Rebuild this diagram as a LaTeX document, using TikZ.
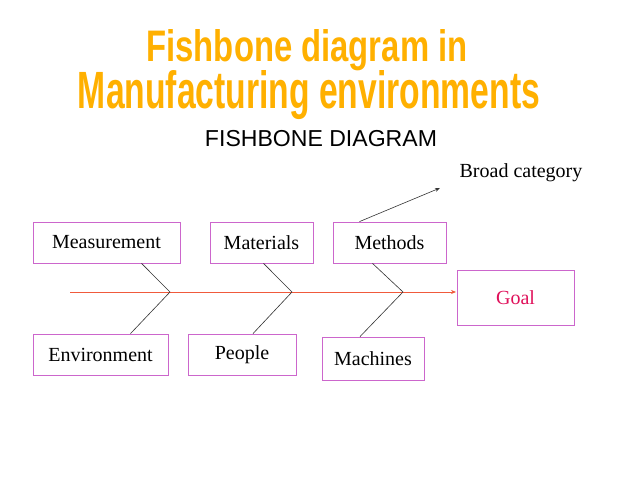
\documentclass[tikz,border=0pt]{standalone}
\usepackage{fontspec}
\setmainfont{Liberation Serif}
\newfontfamily\arialf{Liberation Sans}
\usetikzlibrary{arrows.meta,calc}
\definecolor{ttl}{HTML}{FFB000}
\definecolor{bx}{HTML}{CC66CC}
\definecolor{goalc}{HTML}{E0105A}
\definecolor{spine}{HTML}{F05A3C}
\begin{document}
\begin{tikzpicture}[x=1pt,y=-1pt,
  box/.style={draw=bx,line width=0.8pt,inner sep=0pt,font=\fontsize{20}{22}\selectfont},
  bone/.style={draw=black!80,line width=0.6pt}]
\useasboundingbox[fill=white] (0,0) rectangle (638,478);
\node[text=ttl] (t1) at (307,50) {\resizebox{321pt}{32pt}{\arialf\bfseries Fishbone diagram in}};
\node[text=ttl] (t2) at (309,95) {\resizebox{462pt}{38pt}{\arialf\bfseries Manufacturing environments}};
\node (t3) at (321,139) {\arialf\fontsize{22}{24}\selectfont\resizebox{232pt}{!}{FISHBONE DIAGRAM}};
\node[font=\fontsize{20}{22}\selectfont] (bc) at (521,173) {Broad category};
\node[box,minimum width=147pt,minimum height=41pt] (meas) at (106.5,242.5) {Measurement};
\node[box,minimum width=103pt,minimum height=41pt] (mat) at (261.5,242.5) {Materials};
\node[box,minimum width=113pt,minimum height=41pt] (meth) at (389.5,242.5) {Methods};
\node[box,minimum width=117pt,minimum height=55pt,text=goalc] (goal) at (515.5,297.5) {Goal};
\node[box,minimum width=135pt,minimum height=41pt] (env) at (100.5,354.5) {Environment};
\node[box,minimum width=108pt,minimum height=41pt] (peo) at (242,354.5) {People};
\node[box,minimum width=102pt,minimum height=43pt] (mac) at (373,358.5) {Machines};
\coordinate (s0) at (70,292);
\coordinate (j1) at (170,292);
\coordinate (j2) at (292,292);
\coordinate (j3) at (403,292);
\coordinate (se) at (456,292);
\draw[draw=spine,line width=0.7pt,-{Stealth[length=5pt,width=4pt]}] (s0) -- (se);
\draw[bone] ($(meas.south)+(35,0)$) -- (j1) -- ($(env.north)+(30,0)$);
\draw[bone] ($(mat.south)+(2,0)$) -- (j2) -- ($(peo.north)+(11,0)$);
\draw[bone] ($(meth.south)+(-17,0)$) -- (j3) -- ($(mac.north)+(-13,0)$);
\draw[bone,-{Stealth[length=5pt,width=4pt]}] ($(meth.north)+(-30,0)$) -- (440,188);
\end{tikzpicture}
\end{document}
